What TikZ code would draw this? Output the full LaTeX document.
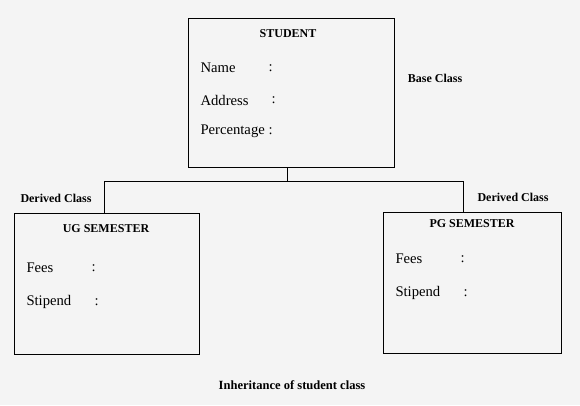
\documentclass[tikz,border=0pt]{standalone}
\usepackage{fontspec}
\setmainfont{Liberation Serif}
\definecolor{bgpaper}{RGB}{244,244,244}
\tikzset{
  classbox/.style={draw,rectangle,inner sep=0pt},
  title/.style={font=\fontsize{9}{11}\selectfont\bfseries,inner sep=0pt},
  field/.style={font=\fontsize{11}{13}\selectfont,anchor=west,inner sep=0pt},
  tag/.style={font=\fontsize{9}{11}\selectfont\bfseries,inner sep=0pt}
}
\begin{document}
\begin{tikzpicture}
  [x=0.75pt,y=-0.75pt,line width=0.75pt]
  \fill[bgpaper] (0,0) rectangle (580,405);
  \useasboundingbox (0,0) rectangle (580,405);

  % the three class boxes
  \node[classbox,minimum width=154.5pt,minimum height=111.75pt] (student) at (291,92.5) {};
  \node[classbox,minimum width=138.75pt,minimum height=105.75pt] (ug) at (106.5,283.5) {};
  \node[classbox,minimum width=133.5pt,minimum height=105.75pt] (pg) at (472,282.5) {};

  % base class
  \node[title] (tstudent) at (288,34) {STUDENT};
  \node[field] (fname) at (200,68) {Name};
  \node[field] (caddr) at (268,68) {:};
  \node[field] (faddr) at (200,100) {Address};
  \node[field] (cname) at (271,100) {:};
  \node[field] (fperc) at (200,131) {Percentage :};

  % derived classes
  \node[title] (tug) at (106,229) {UG SEMESTER};
  \node[title] (tpg) at (472,224) {PG SEMESTER};
  \foreach \n/\x/\y in {ug/26/268,pg/395/259}
  {
    \node[field] (fees\n) at (\x,\y) {Fees};
    \node[field] (stip\n) at (\x,\y+34) {Stipend};
    \node[field] (cfees\n) at (\x+65,\y) {:};
    \node[field] (cstip\n) at (\x+68,\y+34) {:};
  }

  % tags
  \node[tag] (base) at (435,78) {Base Class};
  \node[tag] (derl) at (56,198) {Derived Class};
  \node[tag] (derr) at (513,197) {Derived Class};
  \node[tag,font=\fontsize{9.4}{11}\selectfont\bfseries] (caption) at (292,385) {Inheritance of student class};

  % inheritance lines
  \coordinate (bt) at (287,181);
  \coordinate (bl) at (104,181);
  \coordinate (br) at (463,181);
  \draw (bt |- student.south) -- (bt);
  \draw (bl) -- (br);
  \draw (bl) -- (bl |- ug.north);
  \draw (br) -- (br |- pg.north);

\end{tikzpicture}
\end{document}
